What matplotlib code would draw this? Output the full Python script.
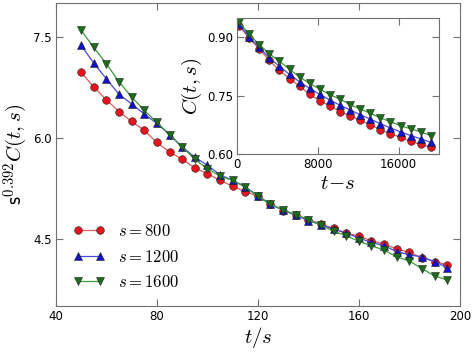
import matplotlib
matplotlib.use("Agg")
import matplotlib.pyplot as plt

plt.rcParams["mathtext.fontset"] = "cm"
plt.rcParams["font.family"] = ["DejaVu Sans"]

# main panel: t/s values and scaled autocorrelation for each waiting time s
t_over_s = [50, 55, 60, 65, 70, 75, 80, 85, 90, 95, 100, 105, 110, 115, 120,
            125, 130, 135, 140, 145, 150, 155, 160, 165, 170, 175, 180, 185, 190, 195]
scaled_800 = [6.973, 6.749, 6.564, 6.385, 6.242, 6.107, 5.930, 5.788, 5.680, 5.549,
              5.466, 5.366, 5.280, 5.200, 5.130, 5.018, 4.918, 4.854, 4.784, 4.719,
              4.653, 4.585, 4.540, 4.470, 4.420, 4.346, 4.296, 4.220, 4.161, 4.112]
scaled_1200 = [7.370, 7.107, 6.873, 6.645, 6.500, 6.351, 6.212, 6.045, 5.863, 5.713,
               5.590, 5.450, 5.366, 5.270, 5.140, 5.010, 4.925, 4.850, 4.765, 4.710,
               4.640, 4.585, 4.510, 4.445, 4.395, 4.310, 4.260, 4.230, 4.160, 4.072]
scaled_1600 = [7.594, 7.340, 7.097, 6.828, 6.605, 6.406, 6.227, 6.045, 5.863, 5.679,
               5.540, 5.430, 5.366, 5.270, 5.130, 5.008, 4.930, 4.854, 4.784, 4.700,
               4.610, 4.545, 4.460, 4.395, 4.330, 4.230, 4.170, 4.056, 3.948, 3.888]

# inset: raw C(t,s) against t-s
t_minus_s = [200, 1200, 2200, 3200, 4200, 5200, 6200, 7200, 8200, 9200,
             10200, 11200, 12200, 13200, 14200, 15200, 16200, 17200, 18200, 19200]
raw_800 = [0.930, 0.8985, 0.8705, 0.8408, 0.8153, 0.7942, 0.7747, 0.7535, 0.7373, 0.7238,
           0.7093, 0.6984, 0.6864, 0.6755, 0.6628, 0.6518, 0.6432, 0.6330, 0.6246, 0.6170]
raw_1200 = [0.934, 0.900, 0.8746, 0.8476, 0.8255, 0.805, 0.7856, 0.7688, 0.7535, 0.739,
            0.7256, 0.7136, 0.701, 0.690, 0.678, 0.667, 0.657, 0.6475, 0.639, 0.630]
raw_1600 = [0.939, 0.9086, 0.8814, 0.858, 0.839, 0.818, 0.798, 0.7815, 0.767, 0.7525,
            0.7416, 0.727, 0.716, 0.705, 0.693, 0.683, 0.673, 0.665, 0.657, 0.6475]

labels = ["$s=800$", "$s=1200$", "$s=1600$"]
markers = ["o", "^", "v"]
face_colors = ["#e8141c", "#1010d0", "#1a6e1a"]
line_colors = ["#e05a5a", "#4a4ae0", "#3a9a3a"]
frame_color = "#707070"


def style_axis(axis, size):
    for spine in axis.spines.values():
        spine.set_color(frame_color)
    axis.tick_params(direction="in", top=True, right=True, length=5,
                     color=frame_color, labelsize=size, pad=3)


figure = plt.figure(figsize=(4.74, 3.53), dpi=100)
axis_1 = figure.add_axes([0.118, 0.133, 0.852, 0.8585])

for values, label, marker, face, line in zip(
        [scaled_800, scaled_1200, scaled_1600], labels, markers, face_colors, line_colors):
    axis_1.plot(t_over_s, values, color=line, lw=0.9, marker=marker, ms=5.5,
                mfc=face, mec="#202020", mew=0.4, label=label)

axis_1.set_xlim(40, 200)
axis_1.set_ylim(3.5, 8.0)
axis_1.set_xticks([40, 80, 120, 160, 200])
axis_1.set_yticks([4.5, 6.0, 7.5])
axis_1.set_xlabel("$t/s$", fontsize=15, labelpad=1)
axis_1.set_ylabel(r"$\mathsf{s}^{\mathsf{0.392}}C(t,s)$", fontsize=15, labelpad=2)
style_axis(axis_1, 8.5)

axis_1.legend(loc="lower left", bbox_to_anchor=(0.005, 0.0), frameon=False,
              numpoints=2, fontsize=12, handlelength=1.9, handletextpad=0.8,
              labelspacing=0.45)

# inset panel
axis_2 = figure.add_axes([0.5, 0.5637, 0.426, 0.3853])
for values, marker, face, line in zip(
        [raw_800, raw_1200, raw_1600], markers, face_colors, line_colors):
    axis_2.plot(t_minus_s, values, color=line, lw=0.9, marker=marker, ms=5.5,
                mfc=face, mec="#202020", mew=0.4)

axis_2.set_xlim(0, 20000)
axis_2.set_ylim(0.6, 0.95)
axis_2.set_xticks([0, 8000, 16000])
axis_2.set_yticks([0.60, 0.75, 0.90])
axis_2.set_yticklabels(["0.60", "0.75", "0.90"])
axis_2.set_xlabel("$t\\!-\\!s$", fontsize=15, labelpad=1)
axis_2.set_ylabel("$C(t,s)$", fontsize=15, labelpad=2)
style_axis(axis_2, 8.5)

figure.savefig("out.png", dpi=100)
